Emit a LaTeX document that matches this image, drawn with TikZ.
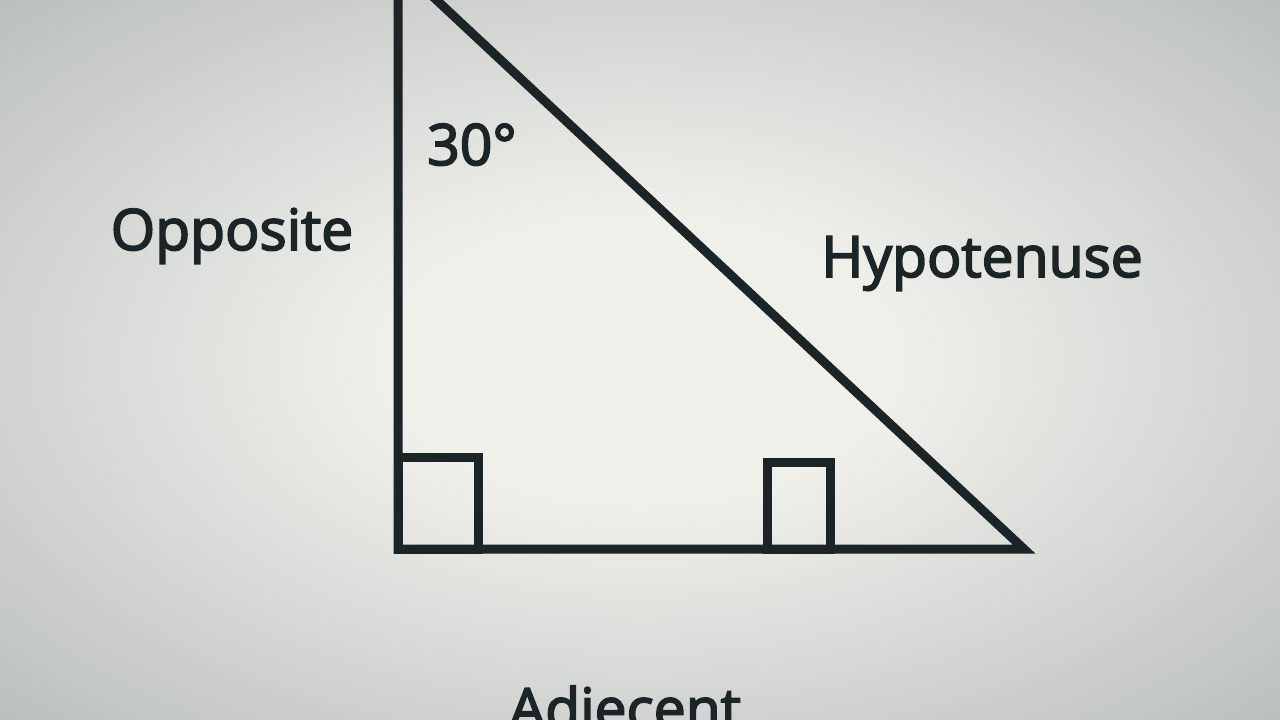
\documentclass[tikz,border=0pt]{standalone}
\usepackage{fontspec}
\setmainfont{Open Sans}
\newfontfamily\lblfont{Open Sans}[FakeBold=3]
\usepackage{tikz}
\usetikzlibrary{positioning,calc}
\definecolor{bgin}{HTML}{F0F0EB}
\definecolor{bgout}{HTML}{B9BEBD}
\definecolor{ink}{HTML}{1B2427}
\pgfdeclareradialshading{vignette}{\pgfpoint{0bp}{0bp}}{color(0bp)=(bgin); color(10bp)=(bgin); color(36bp)=(bgout)}

\begin{document}
\begin{tikzpicture}[x=1pt,y=-1pt]
      \tikzstyle{side} = [draw=ink,line width=9pt]
      \tikzstyle{lbl} = [text=ink,inner sep=0pt,anchor=base,font=\lblfont\fontsize{57}{66}\selectfont]
      \useasboundingbox (0,0) rectangle (1280,720);
      \clip (0,0) rectangle (1280,720);
      \shade[shading=vignette] (0,0) rectangle (1280,720);
      % triangle corners
      \coordinate (apex) at (398,-36);
      \coordinate (corner) at (398,549);
      \coordinate (tip) at (1024,549);
      \path[side] (apex) -- (corner) -- (tip) -- cycle;
      \foreach \x/\w/\h in {398/80/92,767/63/87}{
        \draw[side] (\x,549) rectangle ++(\w,-\h);
      }
      \node[lbl] (angle) at (472,165) {30°};
      \node[lbl] (opp) at (232,250) {Opposite};
      \node[lbl] (hyp) at (982,277) {Hypotenuse};
      \node[lbl] (adj) at (625,729) {Adjecent};
    \end{tikzpicture}
\end{document}
